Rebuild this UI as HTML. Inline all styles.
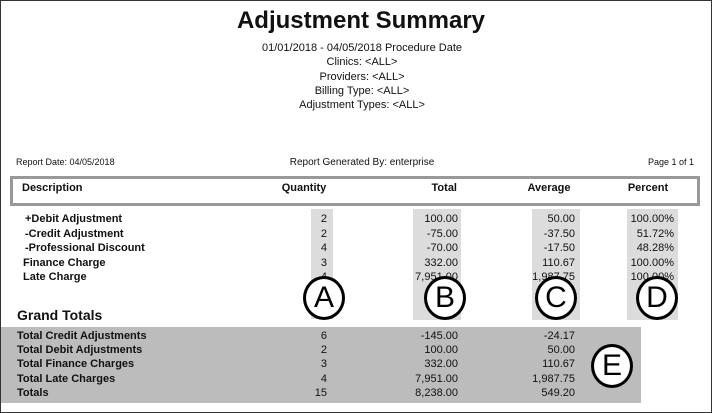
<!DOCTYPE html>
<html><head><style>
body{margin:0;width:712px;height:413px;overflow:hidden;background:#fff;font-family:"Liberation Sans",Arial,sans-serif;}
.p{position:absolute;left:0;top:0;width:710px;height:411px;border:1px solid #333;}
.t{position:absolute;white-space:nowrap;font-size:11px;color:#111;line-height:13px;}
.c{transform:translateX(-50%);}
.r{transform:translateX(-100%);}
.b{font-weight:bold;}
.g{position:absolute;background:#dcdcdc;}
.circ{position:absolute;width:36px;height:38px;border:3px solid #000;border-radius:50%;background:#fff;font-size:30px;line-height:38px;text-align:center;color:#000;}
</style></head><body>
<div class="p"></div>
<div class="t c b" style="left:361px;top:7px;font-size:24px;line-height:28px">Adjustment Summary</div>
<div class="t c" style="left:362px;top:42px">01/01/2018 - 04/05/2018 Procedure Date</div>
<div class="t c" style="left:362px;top:56px">Clinics: &lt;ALL&gt;</div>
<div class="t c" style="left:362px;top:71px">Providers: &lt;ALL&gt;</div>
<div class="t c" style="left:362px;top:85px">Billing Type: &lt;ALL&gt;</div>
<div class="t c" style="left:362px;top:99px">Adjustment Types: &lt;ALL&gt;</div>
<div class="t" style="left:16px;top:156px;font-size:9px">Report Date: 04/05/2018</div>
<div class="t c" style="left:362px;top:156px;font-size:10px">Report Generated By: enterprise</div>
<div class="t r" style="left:694px;top:156px;font-size:9px">Page 1 of 1</div>
<div style="position:absolute;left:10px;top:176px;width:684px;height:24px;border:3px solid #999;"></div>
<div class="t b" style="left:22px;top:182px">Description</div>
<div class="t c b" style="left:304px;top:182px">Quantity</div>
<div class="t r b" style="left:457px;top:182px">Total</div>
<div class="t c b" style="left:549px;top:182px">Average</div>
<div class="t c b" style="left:648px;top:182px">Percent</div>
<div class="g" style="left:311px;top:209px;width:22px;height:110px"></div>
<div class="g" style="left:413px;top:209px;width:48px;height:111px"></div>
<div class="g" style="left:532px;top:209px;width:48px;height:111px"></div>
<div class="g" style="left:627px;top:209px;width:51px;height:111px"></div>
<div class="t b" style="left:25px;top:213px">+Debit Adjustment</div>
<div class="t b" style="left:25px;top:228px">-Credit Adjustment</div>
<div class="t b" style="left:25px;top:242px">-Professional Discount</div>
<div class="t b" style="left:23px;top:257px">Finance Charge</div>
<div class="t b" style="left:23px;top:271px">Late Charge</div>
<div class="t r" style="left:327px;top:213px">2</div><div class="t r" style="left:458px;top:213px">100.00</div><div class="t r" style="left:575px;top:213px">50.00</div><div class="t r" style="left:674px;top:213px">100.00%</div>
<div class="t r" style="left:327px;top:228px">2</div><div class="t r" style="left:458px;top:228px">-75.00</div><div class="t r" style="left:575px;top:228px">-37.50</div><div class="t r" style="left:674px;top:228px">51.72%</div>
<div class="t r" style="left:327px;top:242px">4</div><div class="t r" style="left:458px;top:242px">-70.00</div><div class="t r" style="left:575px;top:242px">-17.50</div><div class="t r" style="left:674px;top:242px">48.28%</div>
<div class="t r" style="left:327px;top:257px">3</div><div class="t r" style="left:458px;top:257px">332.00</div><div class="t r" style="left:575px;top:257px">110.67</div><div class="t r" style="left:674px;top:257px">100.00%</div>
<div class="t r" style="left:327px;top:271px">4</div><div class="t r" style="left:458px;top:271px">7,951.00</div><div class="t r" style="left:575px;top:271px">1,987.75</div><div class="t r" style="left:674px;top:271px">100.00%</div>
<div class="t b" style="left:17px;top:307px;font-size:14px;line-height:16px">Grand Totals</div>
<div class="g" style="left:1px;top:327px;width:640px;height:76px;background:#bdbcbc"></div>
<div class="t b" style="left:17px;top:330px">Total Credit Adjustments</div>
<div class="t b" style="left:17px;top:344px">Total Debit Adjustments</div>
<div class="t b" style="left:17px;top:358px">Total Finance Charges</div>
<div class="t b" style="left:17px;top:373px">Total Late Charges</div>
<div class="t b" style="left:17px;top:387px">Totals</div>
<div class="t r" style="left:327px;top:330px">6</div><div class="t r" style="left:458px;top:330px">-145.00</div><div class="t r" style="left:575px;top:330px">-24.17</div>
<div class="t r" style="left:327px;top:344px">2</div><div class="t r" style="left:458px;top:344px">100.00</div><div class="t r" style="left:575px;top:344px">50.00</div>
<div class="t r" style="left:327px;top:358px">3</div><div class="t r" style="left:458px;top:358px">332.00</div><div class="t r" style="left:575px;top:358px">110.67</div>
<div class="t r" style="left:327px;top:373px">4</div><div class="t r" style="left:458px;top:373px">7,951.00</div><div class="t r" style="left:575px;top:373px">1,987.75</div>
<div class="t r" style="left:327px;top:387px">15</div><div class="t r" style="left:458px;top:387px">8,238.00</div><div class="t r" style="left:575px;top:387px">549.20</div>
<div class="circ" style="left:303px;top:276px">A</div>
<div class="circ" style="left:424px;top:276px">B</div>
<div class="circ" style="left:535px;top:276px">C</div>
<div class="circ" style="left:636px;top:276px">D</div>
<div class="circ" style="left:591px;top:344px">E</div>
</body></html>
